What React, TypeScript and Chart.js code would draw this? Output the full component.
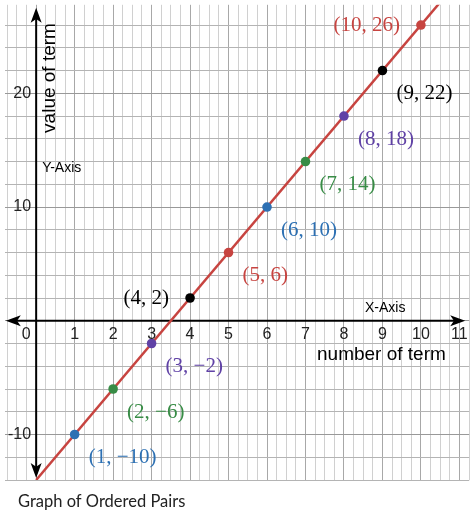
import React, { useEffect, useRef } from "react";
import { Chart, registerables } from "chart.js";

Chart.register(...registerables);

const RED = "#c74440";
const BLUE = "#2d70b3";
const GREEN = "#388c46";
const PURPLE = "#6042a6";
const BLACK = "#000000";

// Ordered pairs
const pointXs = [1, 2, 3, 4, 5, 6, 7, 8, 9, 10];
const pointYs = [-10, -6, -2, 2, 6, 10, 14, 18, 22, 26];
const pointLabels = [
  "(1, −10)",
  "(2, −6)",
  "(3, −2)",
  "(4, 2)",
  "(5, 6)",
  "(6, 10)",
  "(7, 14)",
  "(8, 18)",
  "(9, 22)",
  "(10, 26)",
];
const pointColors = [BLUE, GREEN, PURPLE, BLACK, RED, BLUE, GREEN, PURPLE, BLACK, RED];
const labelSides = ["br", "br", "br", "l", "br", "br", "br", "br", "br", "l"];

// Line through the pairs
const lineXs = [0, 11];
const lineYs = [-14, 30];

// Tick labels
const xTickValues = [0, 1, 2, 3, 4, 5, 6, 7, 8, 9, 10, 11];
const xTickLabels = ["0", "1", "2", "3", "4", "5", "6", "7", "8", "9", "10", "11"];
const yTickValues = [20, 10, -10];
const yTickLabels = ["20", "10", "-10"];

const X_MIN = -0.815;
const X_MAX = 11.255;
const Y_MIN = -14;
const Y_MAX = 27.78;

const range = (a: number, b: number, s: number) => {
  const out: number[] = [];
  for (let v = a; v <= b + 1e-9; v += s) out.push(Math.round(v * 100) / 100);
  return out;
};

const axesPlugin = {
  id: "axesPlugin",
  beforeDatasetsDraw(chart: any) {
    const { ctx, scales, chartArea } = chart;
    const x0 = scales.x.getPixelForValue(0);
    const y0 = scales.y.getPixelForValue(0);
    ctx.save();
    ctx.strokeStyle = "#000";
    ctx.fillStyle = "#000";
    ctx.lineWidth = 2;
    // y axis
    ctx.beginPath();
    ctx.moveTo(x0, chartArea.top + 10);
    ctx.lineTo(x0, chartArea.bottom - 6);
    ctx.stroke();
    // x axis
    ctx.beginPath();
    ctx.moveTo(chartArea.left + 8, y0);
    ctx.lineTo(chartArea.right - 10, y0);
    ctx.stroke();
    const arrow = (tx: number, ty: number, dx: number, dy: number) => {
      const len = 15;
      const hw = 5.5;
      const bx = tx - dx * len;
      const by = ty - dy * len;
      const px = -dy;
      const py = dx;
      ctx.beginPath();
      ctx.moveTo(tx, ty);
      ctx.lineTo(bx + px * hw, by + py * hw);
      ctx.lineTo(tx - dx * len * 0.75, ty - dy * len * 0.75);
      ctx.lineTo(bx - px * hw, by - py * hw);
      ctx.closePath();
      ctx.fill();
    };
    arrow(x0, chartArea.top + 3, 0, -1);
    arrow(x0, chartArea.bottom - 2, 0, 1);
    arrow(chartArea.left + 1, y0, -1, 0);
    arrow(chartArea.right - 4, y0, 1, 0);
    ctx.restore();
  },
  afterDatasetsDraw(chart: any) {
    const { ctx, scales } = chart;
    const xs = scales.x;
    const ys = scales.y;
    const x0 = xs.getPixelForValue(0);
    const y0 = ys.getPixelForValue(0);
    ctx.save();
    // tick labels
    ctx.fillStyle = "#222";
    ctx.font = '16px "Liberation Sans", Arial, sans-serif';
    ctx.textBaseline = "middle";
    ctx.textAlign = "center";
    xTickValues.forEach((v, i) => {
      const px = v === 0 ? x0 - 10 : xs.getPixelForValue(v);
      ctx.fillText(xTickLabels[i], px, y0 + 14);
    });
    ctx.textAlign = "right";
    yTickValues.forEach((v, i) => {
      ctx.fillText(yTickLabels[i], x0 - 5, ys.getPixelForValue(v));
    });
    // axis titles
    ctx.fillStyle = "#000";
    ctx.textAlign = "left";
    ctx.font = '14px "Liberation Sans", Arial, sans-serif';
    ctx.fillText("Y-Axis", x0 + 6, 168);
    ctx.fillText("X-Axis", 365, y0 - 13);
    ctx.font = '19px "Liberation Sans", Arial, sans-serif';
    ctx.fillText("number of term", 317, y0 + 34);
    ctx.save();
    ctx.translate(x0 + 14, 78);
    ctx.rotate(-Math.PI / 2);
    ctx.textAlign = "center";
    ctx.fillText("value of term", 0, 0);
    ctx.restore();
    // point labels
    ctx.font = '21px "Liberation Serif", "Times New Roman", serif';
    ctx.textBaseline = "middle";
    pointXs.forEach((vx, i) => {
      const px = xs.getPixelForValue(vx);
      const py = ys.getPixelForValue(pointYs[i]);
      ctx.fillStyle = pointColors[i];
      if (labelSides[i] === "l") {
        ctx.textAlign = "right";
        ctx.fillText(pointLabels[i], px - 21, py);
      } else {
        ctx.textAlign = "left";
        ctx.fillText(pointLabels[i], px + 14, py + 23);
      }
    });
    // caption
    ctx.fillStyle = "#222";
    ctx.textAlign = "left";
    ctx.textBaseline = "alphabetic";
    ctx.font = '16.5px Lato, "Open Sans", sans-serif';
    ctx.fillText("Graph of Ordered Pairs", 18, 507);
    ctx.restore();
  },
};

export default function App() {
  const ref = useRef<HTMLCanvasElement | null>(null);
  useEffect(() => {
    if (!ref.current) return;
    const chart = new Chart(ref.current, {
      type: "scatter",
      data: {
        datasets: [
          {
            type: "scatter",
            data: pointXs.map((x, i) => ({ x, y: pointYs[i] })),
            pointBackgroundColor: pointColors,
            pointBorderColor: pointColors,
            pointRadius: 4.8,
            pointBorderWidth: 0,
          },
          {
            type: "line",
            data: lineXs.map((x, i) => ({ x, y: lineYs[i] })),
            borderColor: RED,
            borderWidth: 2.5,
            pointRadius: 0,
            fill: false,
          },
        ],
      },
      plugins: [axesPlugin],
      options: {
        responsive: false,
        animation: false,
        devicePixelRatio: 1,
        layout: { padding: { left: 0, right: 0, top: 0, bottom: 38 } },
        plugins: { legend: { display: false }, tooltip: { enabled: false } },
        scales: {
          x: {
            type: "linear",
            min: X_MIN,
            max: X_MAX,
            ticks: { display: false },
            border: { display: false },
            grid: {
              drawTicks: false,
              lineWidth: 1,
              color: (c: any) =>
                Math.abs(c.tick.value - Math.round(c.tick.value)) < 1e-6 ? "#a8a8a8" : "#d0d0d0",
            },
            afterBuildTicks: (axis: any) => {
              axis.ticks = range(-0.75, 11.25, 0.25).map((value) => ({ value }));
            },
            afterFit: (axis: any) => {
              axis.height = 0;
            },
          },
          y: {
            type: "linear",
            min: Y_MIN,
            max: Y_MAX,
            ticks: { display: false },
            border: { display: false },
            grid: {
              drawTicks: false,
              lineWidth: 1,
              color: (c: any) => (c.tick.value % 10 === 0 ? "#999999" : "#b4b4b4"),
            },
            afterBuildTicks: (axis: any) => {
              axis.ticks = range(-14, 26, 2).map((value) => ({ value }));
            },
            afterFit: (axis: any) => {
              axis.width = 0;
            },
          },
        },
      },
    } as any);
    return () => chart.destroy();
  }, []);
  return (
    <div style={{ position: "absolute", left: 0, top: 0, width: 474, height: 518, background: "#fff" }}>
      <canvas ref={ref} width={474} height={518} style={{ display: "block" }} />
    </div>
  );
}
